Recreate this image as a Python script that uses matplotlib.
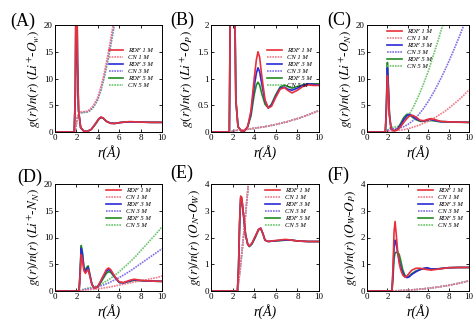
import matplotlib
matplotlib.use('Agg')
import matplotlib.pyplot as plt

plt.rcParams['font.family'] = 'Liberation Serif'
plt.rcParams['mathtext.fontset'] = 'stix'

# ---- data (r in Angstrom) ----
# (A) Li+ - Ow
a_r = [0, 1.8, 1.9, 2.0, 2.1, 2.2, 2.4, 2.7, 3.0, 3.4, 3.8, 4.1, 4.3, 4.5, 4.8, 5.2, 5.6, 6.2, 7.0, 8.0, 9.0, 10.0]
a_rdf1 = [0, 0, 8, 40, 14, 4, 0.8, 0.15, 0.1, 0.5, 1.6, 2.5, 2.8, 2.6, 2.0, 1.6, 1.6, 1.8, 1.95, 1.85, 1.8, 1.8]
a_rdf3 = [0, 0, 7, 38, 13, 4, 0.8, 0.15, 0.1, 0.5, 1.6, 2.5, 2.75, 2.6, 2.0, 1.65, 1.6, 1.8, 1.9, 1.85, 1.8, 1.8]
a_rdf5 = [0, 0, 7, 36, 13, 4, 0.8, 0.15, 0.1, 0.5, 1.5, 2.4, 2.7, 2.55, 2.0, 1.65, 1.6, 1.8, 1.9, 1.85, 1.8, 1.8]
a_cn_r = [1.8, 1.95, 2.1, 2.3, 2.6, 3.0, 3.3, 3.6, 4.0, 4.3, 4.6, 5.0, 5.3, 5.6]
a_cn1 = [0, 1.0, 3.0, 3.7, 3.8, 3.9, 4.3, 5.0, 6.5, 8.5, 11, 15, 18.5, 22]
a_cn3 = [0, 0.9, 2.9, 3.6, 3.7, 3.8, 4.1, 4.8, 6.2, 8.1, 10.5, 14.3, 17.7, 21]
a_cn5 = [0, 0.8, 2.8, 3.5, 3.6, 3.7, 4.0, 4.6, 6.0, 7.8, 10.1, 13.8, 17.1, 20.4]

# (B) Li+ - Op
b_r = [0, 1.7, 1.8, 1.9, 2.0, 2.1, 2.2, 2.3, 2.5, 2.8, 3.1, 3.4, 3.7, 4.0, 4.2, 4.35, 4.5, 4.7, 5.0, 5.3,
       5.6, 6.0, 6.4, 6.8, 7.1, 7.5, 8.0, 8.5, 9.0, 9.5, 10.0]
b_rdf1 = [0, 0, 3, 10, 14, 8, 2.5, 0.6, 0.1, 0.02, 0.02, 0.1, 0.4, 1.0, 1.35, 1.5, 1.4, 1.05, 0.6, 0.45,
          0.48, 0.65, 0.8, 0.83, 0.78, 0.73, 0.78, 0.85, 0.88, 0.87, 0.87]
b_rdf3 = [0, 0, 3, 10, 14, 8, 2.5, 0.6, 0.1, 0.02, 0.02, 0.1, 0.35, 0.85, 1.1, 1.2, 1.13, 0.9, 0.58, 0.45,
          0.5, 0.67, 0.82, 0.84, 0.8, 0.78, 0.82, 0.87, 0.9, 0.89, 0.88]
b_rdf5 = [0, 0, 3, 10, 14, 8, 2.5, 0.6, 0.1, 0.02, 0.02, 0.1, 0.3, 0.7, 0.88, 0.93, 0.88, 0.72, 0.52, 0.45,
          0.52, 0.7, 0.84, 0.88, 0.85, 0.82, 0.85, 0.88, 0.9, 0.9, 0.9]
b_cn_r = [1.9, 2.0, 2.3, 3, 4, 5, 6, 7, 8, 9, 10]
b_cn1 = [0, 0.02, 0.03, 0.04, 0.07, 0.1, 0.14, 0.19, 0.25, 0.32, 0.4]
b_cn3 = [0, 0.02, 0.03, 0.04, 0.07, 0.1, 0.14, 0.19, 0.25, 0.32, 0.4]
b_cn5 = [0, 0.02, 0.03, 0.04, 0.07, 0.1, 0.14, 0.19, 0.25, 0.32, 0.4]

# (C) Li+ - On
c_r = [0, 1.8, 1.9, 2.0, 2.1, 2.2, 2.35, 2.5, 2.7, 3.0, 3.3, 3.6, 3.9, 4.1, 4.3, 4.5, 4.8, 5.2, 5.6, 6.0,
       6.3, 6.7, 7.2, 8.0, 9.0, 10.0]
c_rdf1 = [0, 0, 4, 10.5, 7, 3, 0.8, 0.3, 0.2, 0.4, 1.0, 1.8, 2.5, 2.9, 3.1, 3.1, 2.8, 2.2, 2.1, 2.4,
          2.5, 2.3, 2.0, 1.9, 1.85, 1.8]
c_rdf3 = [0, 0, 4.5, 12, 8, 3.2, 0.8, 0.3, 0.25, 0.5, 1.3, 2.3, 3.0, 3.25, 3.2, 2.9, 2.5, 2.1, 2.1, 2.25,
          2.3, 2.15, 1.95, 1.9, 1.85, 1.8]
c_rdf5 = [0, 0, 5, 13, 8.5, 3.3, 0.8, 0.3, 0.3, 0.6, 1.6, 2.7, 3.3, 3.3, 3.0, 2.7, 2.3, 2.0, 2.0, 2.1,
          2.15, 2.05, 1.9, 1.85, 1.82, 1.8]
c_cn_r = [1.8, 2.0, 2.2, 2.5, 3.0, 3.5, 4.0, 4.5, 5.0, 5.5, 6.0, 6.5, 7.0, 7.5, 8.0, 8.5, 9.0, 9.5, 10.0]
c_cn1 = [0, 0.1, 0.2, 0.25, 0.3, 0.4, 0.6, 0.9, 1.2, 1.6, 2.0, 2.5, 3.1, 3.7, 4.4, 5.2, 6.0, 6.9, 7.9]
c_cn3 = [0, 0.2, 0.5, 0.6, 0.7, 0.9, 1.4, 2.1, 3.1, 4.3, 5.7, 7.3, 9.1, 11, 13.1, 15.3, 17.6, 20, 22.5]
c_cn5 = [0, 0.3, 0.7, 0.9, 1.0, 1.6, 2.8, 4.5, 6.5, 8.8, 11.3, 14.3, 17.3, 20.5, 24, 27.5, 31, 35, 39]

# (D) Li+ - Nn
d_r = [0, 2.25, 2.35, 2.45, 2.55, 2.7, 2.85, 3.0, 3.1, 3.25, 3.45, 3.7, 4.0, 4.4, 4.8, 5.0, 5.2, 5.6,
       6.0, 6.4, 7.0, 7.4, 8.0, 9.0, 10.0]
d_rdf1 = [0, 0, 3, 6.8, 6, 3.8, 3.3, 3.8, 4.0, 2.8, 1.2, 0.5, 0.8, 2.4, 4.0, 4.3, 4.0, 2.7,
          1.7, 1.6, 2.0, 2.2, 2.0, 1.85, 1.8]
d_rdf3 = [0, 0, 3.5, 8.0, 7, 4.2, 3.6, 4.2, 4.4, 3.0, 1.2, 0.5, 0.8, 2.3, 3.7, 4.0, 3.8, 2.6,
          1.6, 1.5, 1.9, 2.1, 1.95, 1.85, 1.8]
d_rdf5 = [0, 0, 3.8, 8.5, 7.5, 4.5, 3.9, 4.5, 4.7, 3.2, 1.3, 0.5, 0.7, 2.0, 3.3, 3.6, 3.5, 2.5,
          1.6, 1.5, 1.8, 2.0, 1.9, 1.85, 1.8]
d_cn_r = [2.3, 2.6, 3.0, 3.5, 4.0, 4.5, 5.0, 5.5, 6.0, 6.5, 7.0, 7.5, 8.0, 8.5, 9.0, 9.5, 10.0]
d_cn1 = [0, 0.1, 0.2, 0.3, 0.4, 0.55, 0.7, 0.9, 1.1, 1.3, 1.5, 1.7, 1.9, 2.1, 2.3, 2.5, 2.8]
d_cn3 = [0, 0.2, 0.4, 0.5, 0.8, 1.1, 1.5, 2.0, 2.5, 3.1, 3.7, 4.4, 5.1, 5.8, 6.5, 7.2, 7.9]
d_cn5 = [0, 0.3, 0.5, 0.7, 1.0, 1.5, 2.1, 2.8, 3.6, 4.5, 5.4, 6.4, 7.5, 8.6, 9.7, 10.8, 12.0]

# (E) On - Ow
e_r = [0, 2.45, 2.55, 2.65, 2.75, 2.85, 3.0, 3.2, 3.4, 3.55, 3.8, 4.1, 4.4, 4.6, 4.8, 5.0, 5.3, 5.8,
       6.3, 6.9, 7.5, 8.0, 9.0, 10.0]
e_rdf1 = [0, 0, 0.9, 2.6, 3.55, 3.5, 2.9, 2.1, 1.75, 1.68, 1.8, 2.05, 2.3, 2.35, 2.15, 1.9, 1.85, 1.88,
          1.9, 1.93, 1.9, 1.87, 1.85, 1.85]
e_rdf3 = [0, 0, 0.9, 2.55, 3.5, 3.45, 2.9, 2.1, 1.75, 1.67, 1.78, 2.03, 2.3, 2.35, 2.15, 1.9, 1.85, 1.87,
          1.89, 1.91, 1.9, 1.87, 1.85, 1.85]
e_rdf5 = [0, 0, 0.85, 2.5, 3.45, 3.4, 2.85, 2.1, 1.75, 1.66, 1.76, 2.0, 2.28, 2.33, 2.15, 1.9, 1.85, 1.87,
          1.88, 1.9, 1.9, 1.87, 1.85, 1.85]
e_cn_r = [2.45, 2.7, 3.0, 3.3, 3.6]
e_cn1 = [0, 0.8, 2.0, 3.3, 4.6]
e_cn3 = [0, 0.8, 2.0, 3.3, 4.6]
e_cn5 = [0, 0.8, 2.0, 3.3, 4.6]

# (F) Ow - Op
f_r = [0, 2.45, 2.55, 2.65, 2.75, 2.85, 3.0, 3.15, 3.3, 3.5, 3.7, 3.9, 4.1, 4.4, 4.8, 5.2, 5.6, 5.9,
       6.3, 7.0, 8.0, 9.0, 10.0]
f_rdf1 = [0, 0, 0.9, 2.2, 2.6, 2.2, 1.5, 1.05, 0.8, 0.6, 0.52, 0.55, 0.65, 0.78, 0.85, 0.85, 0.82, 0.8,
          0.78, 0.82, 0.87, 0.88, 0.88]
f_rdf3 = [0, 0, 0.7, 1.6, 1.9, 1.8, 1.45, 1.15, 0.9, 0.68, 0.55, 0.5, 0.52, 0.62, 0.72, 0.8, 0.85, 0.87,
          0.82, 0.83, 0.87, 0.88, 0.88]
f_rdf5 = [0, 0, 0.5, 1.2, 1.42, 1.45, 1.42, 1.38, 1.15, 0.8, 0.6, 0.52, 0.55, 0.65, 0.75, 0.8, 0.84, 0.85,
          0.82, 0.83, 0.87, 0.88, 0.88]
f_cn_r = [2.5, 3, 4, 5, 6, 7, 8, 9, 10]
f_cn1 = [0, 0.01, 0.03, 0.06, 0.1, 0.15, 0.21, 0.29, 0.38]
f_cn3 = [0, 0.01, 0.03, 0.06, 0.1, 0.15, 0.21, 0.29, 0.38]
f_cn5 = [0, 0.01, 0.03, 0.06, 0.1, 0.15, 0.21, 0.29, 0.38]

panel_letters = ['(A)', '(B)', '(C)', '(D)', '(E)', '(F)']
ylabels = [r'$g(r)/n(r)\ (Li^{+}$-$O_{w})$',
           r'$g(r)/n(r)\ (Li^{+}$-$O_{P})$',
           r'$g(r)/n(r)\ (Li^{+}$-$O_{N})$',
           r'$g(r)/n(r)\ (Li^{+}$-$N_{N})$',
           r'$g(r)/n(r)\ (O_{N}$-$O_{W})$',
           r'$g(r)/n(r)\ (O_{W}$-$O_{P})$']
yticks = [[0, 5, 10, 15, 20], [0, 0.5, 1, 1.5, 2], [0, 5, 10, 15, 20],
          [0, 5, 10, 15, 20], [0, 1, 2, 3, 4], [0, 1, 2, 3, 4]]
ytick_labels = [['0', '5', '10', '15', '20'], ['0', '0.5', '1', '1.5', '2'],
                ['0', '5', '10', '15', '20'], ['0', '5', '10', '15', '20'],
                ['0', '1', '2', '3', '4'], ['0', '1', '2', '3', '4']]
xticks = [0, 2, 4, 6, 8, 10]

panels = [
    (a_r, [a_rdf1, a_rdf3, a_rdf5], a_cn_r, [a_cn1, a_cn3, a_cn5]),
    (b_r, [b_rdf1, b_rdf3, b_rdf5], b_cn_r, [b_cn1, b_cn3, b_cn5]),
    (c_r, [c_rdf1, c_rdf3, c_rdf5], c_cn_r, [c_cn1, c_cn3, c_cn5]),
    (d_r, [d_rdf1, d_rdf3, d_rdf5], d_cn_r, [d_cn1, d_cn3, d_cn5]),
    (e_r, [e_rdf1, e_rdf3, e_rdf5], e_cn_r, [e_cn1, e_cn3, e_cn5]),
    (f_r, [f_rdf1, f_rdf3, f_rdf5], f_cn_r, [f_cn1, f_cn3, f_cn5]),
]

conc = ['1 M', '3 M', '5 M']
rdf_colors = ['#e8303c', '#2a2ad8', '#228b22']
cn_colors = ['#f07a88', '#7f6fe6', '#6cc46c']

W, H = 474, 327
cols = [(55, 162), (211, 319), (367, 469)]
rows = [(25, 132), (184, 291)]
letter_pos = [(10, 21), (170, 20), (327, 20), (17, 177), (170, 173), (327, 175)]
legend_anchor = [(0.50, 0.79), (0.52, 0.79), (0.20, 0.97),
                 (0.48, 0.97), (0.50, 0.97), (0.50, 0.97)]


def px_rect(left, right, top, bottom):
    return [left / W, 1 - bottom / H, (right - left) / W, (bottom - top) / H]


def main():
    fig = plt.figure(figsize=(W / 100, H / 100), dpi=100)

    for i, (r, rdfs, cn_r, cns) in enumerate(panels):
        row, col = divmod(i, 3)
        ax = fig.add_axes(px_rect(cols[col][0], cols[col][1], rows[row][0], rows[row][1]))

        handles = []
        for k in (2, 1, 0):
            h_cn, = ax.plot(cn_r, cns[k], color=cn_colors[k], lw=1.2,
                            ls=(0, (1, 0.6)), label='CN ' + conc[k])
            h_rdf, = ax.plot(r, rdfs[k], color=rdf_colors[k], lw=1.2,
                             label='RDF ' + conc[k])
            handles = [h_rdf, h_cn] + handles

        ax.set_xlim(0, 10)
        ax.set_ylim(yticks[i][0], yticks[i][-1])
        ax.set_xticks(xticks)
        ax.set_xticklabels([str(t) for t in xticks])
        ax.set_yticks(yticks[i])
        ax.set_yticklabels(ytick_labels[i])
        ax.tick_params(direction='in', length=2, width=0.6, labelsize=6.5,
                       top=True, right=True, pad=1.5)
        for s in ax.spines.values():
            s.set_linewidth(0.7)

        ax.set_xlabel('r(Å)', fontsize=10, fontstyle='italic', labelpad=2)
        ax.set_ylabel(ylabels[i], fontsize=9.5, labelpad=1)

        ax.legend(handles=handles, loc='upper left', bbox_to_anchor=legend_anchor[i],
                  frameon=False, prop={'family': 'Liberation Serif', 'style': 'italic', 'size': 4.8},
                  handlelength=2.2, handletextpad=0.8, labelspacing=0.2,
                  borderpad=0, borderaxespad=0)

        lx, ly = letter_pos[i]
        fig.text(lx / W, 1 - ly / H, panel_letters[i], fontsize=13,
                 ha='left', va='center')

    fig.savefig('out.png', dpi=100)
    plt.close(fig)


if __name__ == '__main__':
    main()
